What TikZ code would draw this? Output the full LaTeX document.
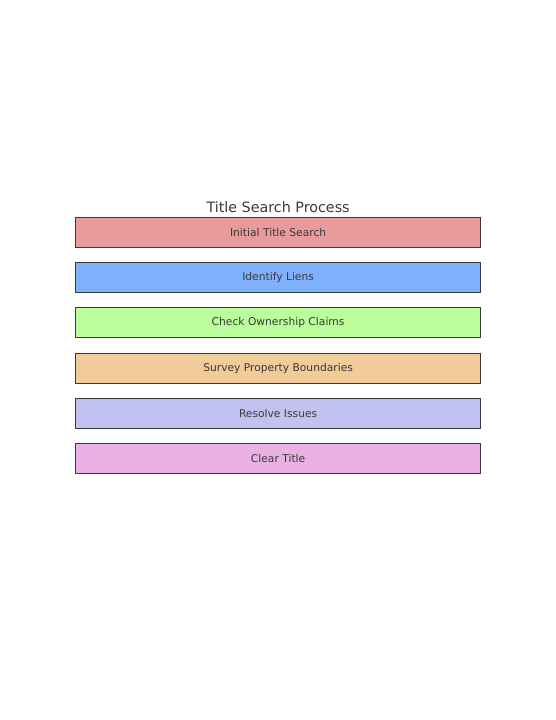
\documentclass[tikz,border=0pt]{standalone}
\usepackage{fontspec}
\setmainfont{DejaVu Sans}
\definecolor{stepred}{HTML}{E99A9A}
\definecolor{stepblue}{HTML}{80B1FF}
\definecolor{stepgreen}{HTML}{BAFF9C}
\definecolor{steporange}{HTML}{F2CB9A}
\definecolor{steplav}{HTML}{C2C2F0}
\definecolor{steppink}{HTML}{EAB1E4}
\definecolor{inkgray}{HTML}{3A3A3A}

\begin{document}
\begin{tikzpicture} [x=1pt,y=-1pt,
			every node/.style={text=inkgray},
			stepbox/.style={draw=inkgray,line width=0.9pt,minimum width=405pt,minimum height=30pt,inner sep=0pt,font=\fontsize{10.7}{12}\selectfont},
			heading/.style={font=\fontsize{14.3}{16}\selectfont,inner sep=0pt}]

		\useasboundingbox (0,0) rectangle (556,720);

		\node [heading] (title) at (278.1,206.7) {Title Search Process};

		\node [stepbox, fill=stepred] (search) at (278.1,232.3) {Initial Title Search};
		\node [stepbox, fill=stepblue] (liens) at (278.1,277.7) {Identify Liens};
		\node [stepbox, fill=stepgreen] (claims) at (278.1,322.7) {Check Ownership Claims};
		\node [stepbox, fill=steporange] (survey) at (278.1,368.3) {Survey Property Boundaries};
		\node [stepbox, fill=steplav] (resolve) at (278.1,413.3) {Resolve Issues};
		\node [stepbox, fill=steppink] (clear) at (278.1,458.7) {Clear Title};

		\end{tikzpicture}
\end{document}
